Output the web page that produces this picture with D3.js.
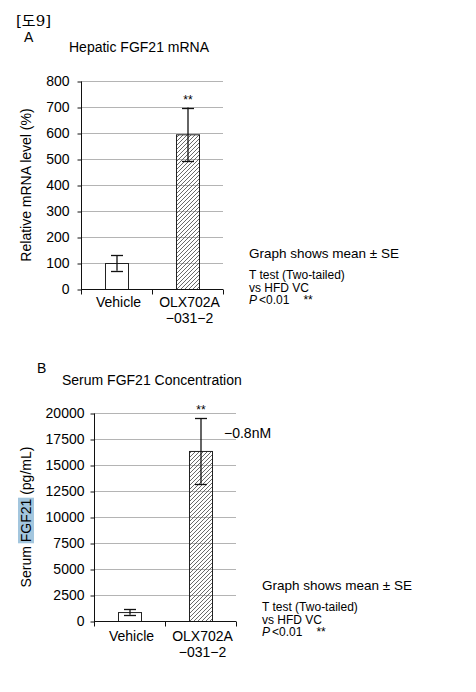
<!DOCTYPE html>
<html>
<head>
<meta charset="utf-8">
<script src="https://cdn.jsdelivr.net/npm/d3@7"></script>
<style>
  html, body { margin: 0; padding: 0; background: #fff; }
  svg text { font-family: "Liberation Sans", Arial, sans-serif; fill: #000; }
  .grid line { stroke: #b4b4b4; stroke-width: 1; }
  .axis path, .axis line { stroke: #111; }
</style>
</head>
<body>
<div id="chart"></div>
<script>
// values
var categories = [["Vehicle"], ["OLX702A", "\u2212031\u22122"]];
var mrnaMean = [100, 595];
var mrnaSE = [30, 103];
var mrnaTicks = [0, 100, 200, 300, 400, 500, 600, 700, 800];
var serumMean = [860, 16350];
var serumSE = [260, 3150];
var serumTicks = [0, 2500, 5000, 7500, 10000, 12500, 15000, 17500, 20000];
var sigMarks = ["", "**"];
var noteLines = ["T test (Two-tailed)", "vs HFD VC"];

var W = 476, H = 692;

var svg = d3.select("#chart").append("svg")
    .attr("width", W)
    .attr("height", H);

svg.append("rect").attr("width", W).attr("height", H).attr("fill", "#fff");

// hatch for the treated bar
svg.append("defs").append("pattern")
    .attr("id", "hatch")
    .attr("patternUnits", "userSpaceOnUse")
    .attr("width", 4)
    .attr("height", 4)
    .append("path")
    .attr("d", "M-1,1 l2,-2 M0,4 l4,-4 M3,5 l2,-2")
    .attr("stroke", "#444")
    .attr("stroke-width", 0.8);

function panel(o) {
    var g = svg.append("g").attr("transform", "translate(" + o.left + "," + o.top + ")");

    var y = d3.scaleLinear().domain(d3.extent(o.ticks)).range([o.height, 0]);
    var x = d3.scaleBand()
        .domain(d3.range(o.mean.length))
        .range([0, o.width])
        .paddingInner(0.676)
        .paddingOuter(0.338);

    // gridlines
    g.append("g").attr("class", "grid")
        .selectAll("line")
        .data(o.ticks.slice(1))
        .enter().append("line")
        .attr("x1", 0).attr("x2", o.width)
        .attr("y1", function(d) { return y(d) + 0.5; })
        .attr("y2", function(d) { return y(d) + 0.5; });

    // y axis
    var yAxis = d3.axisLeft(y).tickValues(o.ticks).tickSize(4).tickPadding(o.pad)
        .tickFormat(d3.format("d"));
    g.append("g").attr("class", "axis")
        .attr("transform", "translate(0.5,0.5)")
        .call(yAxis)
        .call(function(a) { a.select(".domain").attr("d", "M0," + (o.height) + "V0"); })
        .selectAll("text").style("font-size", "14px").attr("fill", "#000");

    // bars
    g.selectAll(".bar").data(o.mean).enter().append("rect")
        .attr("class", "bar")
        .attr("x", function(d, i) { return x(i) + 0.5; })
        .attr("width", x.bandwidth())
        .attr("y", function(d) { return y(d) + 0.5; })
        .attr("height", function(d) { return o.height - y(d); })
        .attr("fill", function(d, i) { return i === 0 ? "#fff" : "url(#hatch)"; })
        .attr("stroke", "#222")
        .attr("stroke-width", 1);

    // error bars
    var cap = 5.5;
    var eb = g.selectAll(".err").data(o.mean).enter().append("g").attr("class", "err");
    eb.append("line")
        .attr("x1", function(d, i) { return x(i) + x.bandwidth() / 2 + 0.5; })
        .attr("x2", function(d, i) { return x(i) + x.bandwidth() / 2 + 0.5; })
        .attr("y1", function(d, i) { return y(d + o.se[i]); })
        .attr("y2", function(d, i) { return y(d - o.se[i]); });
    eb.selectAll(".cap")
        .data(function(d, i) { return [[i, d + o.se[i]], [i, d - o.se[i]]]; })
        .enter().append("line")
        .attr("x1", function(d) { return x(d[0]) + x.bandwidth() / 2 - cap; })
        .attr("x2", function(d) { return x(d[0]) + x.bandwidth() / 2 + cap + 1; })
        .attr("y1", function(d) { return Math.round(y(d[1])) + 0.5; })
        .attr("y2", function(d) { return Math.round(y(d[1])) + 0.5; });
    eb.selectAll("line").attr("stroke", "#111").attr("stroke-width", 1.3);

    // significance stars
    g.selectAll(".sig").data(o.mean).enter().append("text")
        .attr("x", function(d, i) { return x(i) + x.bandwidth() / 2 + 0.5; })
        .attr("y", function(d, i) { return y(d + o.se[i]) - 4; })
        .attr("text-anchor", "middle")
        .style("font-size", "12px")
        .text(function(d, i) { return sigMarks[i]; });

    // x axis with boundary ticks
    var xa = g.append("g").attr("class", "axis").attr("transform", "translate(0," + (o.height + 0.5) + ")");
    xa.append("line").attr("x1", 0).attr("x2", o.width).attr("stroke", "#111");
    xa.selectAll(".xt").data(d3.range(o.mean.length + 1)).enter().append("line")
        .attr("x1", function(d) { return Math.min(d * x.step(), o.width) + 0.5; })
        .attr("x2", function(d) { return Math.min(d * x.step(), o.width) + 0.5; })
        .attr("y1", 0).attr("y2", 5)
        .attr("stroke", "#111");
    var lab = xa.selectAll(".xl").data(categories).enter().append("text")
        .attr("text-anchor", "middle")
        .style("font-size", "14px");
    lab.selectAll("tspan").data(function(d, i) { return d.map(function(s) { return [s, i]; }); })
        .enter().append("tspan")
        .attr("x", function(d) { return x(d[1]) + x.bandwidth() / 2 + 2; })
        .attr("y", function(d, j) { return o.labelY + j * 16.5; })
        .text(function(d) { return d[0]; });

    // y label
    var yl = g.append("text")
        .attr("transform", "translate(" + o.ylabX + "," + o.ylabY + ") rotate(-90)")
        .attr("text-anchor", "middle")
        .style("font-size", "14px")
        .text(o.ylabel);
    if (o.highlight) {
        var node = yl.node();
        var full = node.getComputedTextLength();
        var idx = o.ylabel.indexOf(o.highlight);
        var s0 = node.getSubStringLength(0, idx);
        var s1 = node.getSubStringLength(idx, o.highlight.length);
        g.insert("rect", function() { return node; })
            .attr("transform", "translate(" + o.ylabX + "," + o.ylabY + ") rotate(-90)")
            .attr("x", -full / 2 + s0 - 1)
            .attr("y", -13)
            .attr("width", s1 + 2)
            .attr("height", 16)
            .attr("fill", "#a3c6de");
    }

    // titles and notes
    svg.append("text").attr("x", o.letterX).attr("y", o.letterY).style("font-size", "14px").text(o.letter);
    svg.append("text").attr("x", o.titleX).attr("y", o.titleY).style("font-size", "14px").text(o.title);

    var n = svg.append("g").attr("transform", "translate(" + o.noteX + "," + o.noteY + ")");
    n.append("text").attr("y", 0).style("font-size", "13.5px").text("Graph shows mean \u00b1 SE");
    n.selectAll(".nl").data(noteLines).enter().append("text")
        .attr("y", function(d, i) { return 21 + i * 12.5; })
        .style("font-size", "12px")
        .text(function(d) { return d; });
    var p = n.append("text").attr("y", 21 + 2 * 12.5).style("font-size", "12px");
    p.append("tspan").style("font-style", "italic").text("P");
    p.append("tspan").attr("dx", 2).text("<0.01");
    p.append("tspan").attr("dx", 14).text("**");

    return {g: g, x: x, y: y};
}

svg.append("text").attr("x", 16).attr("y", 26)
    .style("font-family", "'DejaVu Serif', 'Noto Sans CJK KR', serif")
    .style("font-size", "15px")
    .text("[\ub3c49]");

panel({
    left: 81, top: 81, width: 142, height: 208,
    ticks: mrnaTicks, mean: mrnaMean, se: mrnaSE, pad: 8,
    labelY: 17, ylabX: -50, ylabY: 104, ylabel: "Relative mRNA level (%)",
    letter: "A", letterX: 24, letterY: 41.5,
    title: "Hepatic FGF21 mRNA", titleX: 69, titleY: 52,
    noteX: 249, noteY: 258
});

var b = panel({
    left: 94, top: 413, width: 142, height: 208,
    ticks: serumTicks, mean: serumMean, se: serumSE, pad: 6,
    labelY: 19, ylabX: -63, ylabY: 104, ylabel: "Serum FGF21 (pg/mL)", highlight: "FGF21",
    letter: "B", letterX: 37, letterY: 373,
    title: "Serum FGF21 Concentration", titleX: 62, titleY: 385,
    noteX: 262, noteY: 590
});

b.g.append("text")
    .attr("x", b.x(1) + b.x.bandwidth() + 12)
    .attr("y", b.y(serumMean[1] + serumSE[1]) + 20)
    .style("font-size", "14px")
    .text("\u22120.8nM");
</script>
</body>
</html>
